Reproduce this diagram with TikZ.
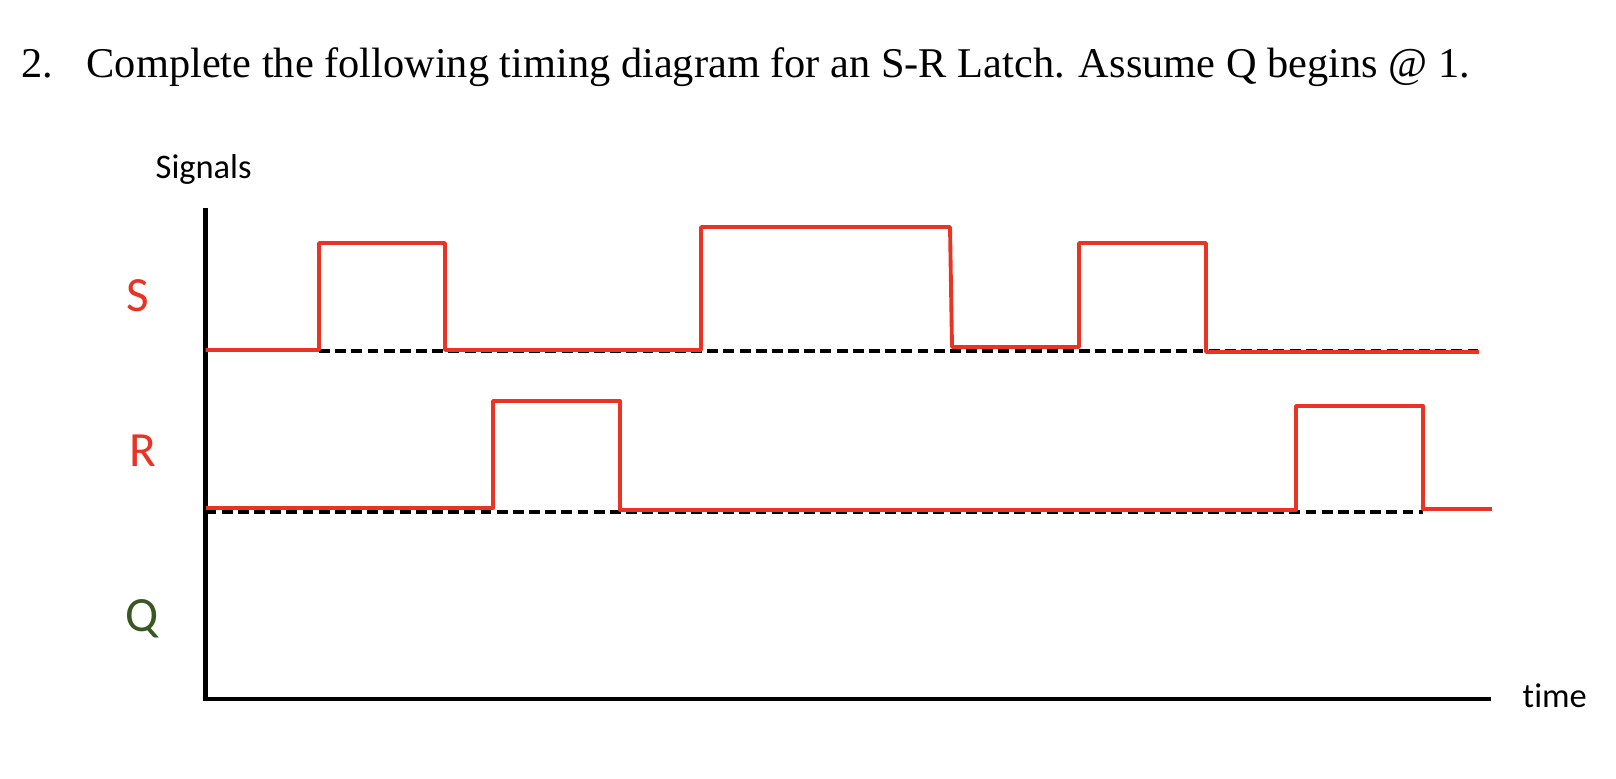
\documentclass[tikz,border=0pt]{standalone}
\usepackage{fontspec}
\setmainfont{Liberation Serif}
\newfontfamily\calibrifont[Ligatures=NoCommon]{Carlito}
\definecolor{sigred}{HTML}{EA3323}
\definecolor{qgreen}{HTML}{385723}
\tikzset{
  titletext/.style={anchor=base west, inner sep=0pt, font=\fontsize{12.05}{14}\selectfont},
  axislabel/.style={anchor=base west, inner sep=0pt, font=\calibrifont\fontsize{9.8}{12}\selectfont},
  siglabel/.style={anchor=base west, inner sep=0pt, font=\calibrifont\fontsize{14}{16}\selectfont},
  axisline/.style={line width=1.15pt, black},
  wave/.style={line width=1.1pt, sigred, line join=round},
  guide/.style={line width=1.05pt, black, dash pattern=on 3.1pt off 1.5pt},
}
\begin{document}
\begin{tikzpicture}[x=0.01cm, y=-0.01cm]
\useasboundingbox (0,0) rectangle (1616,778);
% title
\node[titletext] (num) at (21,77) {2.};
\node[titletext] (title) at (86,77) {Complete the following timing diagram for an S-R Latch. Assume Q begins @ 1.};
% labels
\node[axislabel] (signals) at (155,178) {Signals};
\node[axislabel] (time) at (1522,707) {time};
\node[siglabel, text=sigred] (S) at (126,311) {S};
\node[siglabel, text=sigred] (R) at (129,466) {R};
\node[siglabel, text=qgreen] (Q) at (125,631) {Q};
% axes
\coordinate (ytop) at (205.5,208);
\coordinate (origin) at (205.5,699);
\coordinate (xend) at (1491,699);
\draw[axisline] (ytop) -- (origin) -- (xend);
% dashed reference lines
\draw[guide] (319,351) -- (1479,351);
\draw[guide] (205.5,512) -- (1423,512);
% S waveform
\draw[wave] (205.5,350) -- (319,350) -- (319,243) -- (445,243) -- (445,350)
  -- (701,350) -- (701,227) -- (950,227) -- (952,347) -- (1079,347)
  -- (1079,243) -- (1206,243) -- (1206,352) -- (1479,352);
% R waveform
\draw[wave] (205.5,508) -- (493,508) -- (493,401) -- (620,401) -- (620,510)
  -- (1296,510) -- (1296,406) -- (1423,406) -- (1423,509) -- (1492,509);
\end{tikzpicture}
\end{document}
